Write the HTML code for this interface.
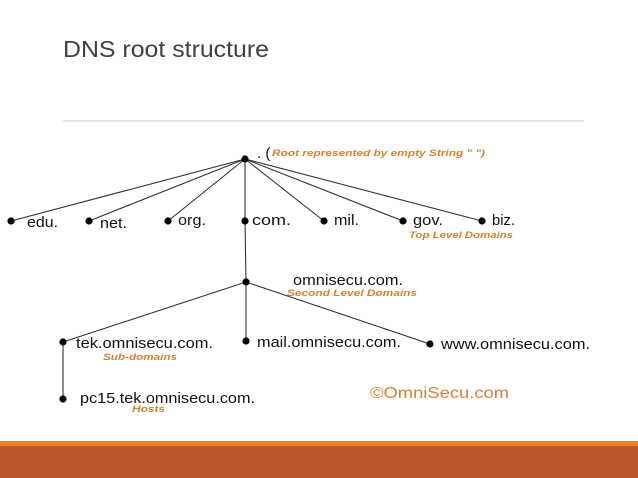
<!DOCTYPE html>
<html><head><meta charset="utf-8"><style>
html,body{margin:0;padding:0;background:#fff;width:638px;height:478px;overflow:hidden}
svg{display:block}
.t{font-family:"Liberation Sans",Arial,sans-serif;font-size:15px;fill:#111}
.o{font-family:"Liberation Sans",Arial,sans-serif;font-size:9px;font-weight:bold;font-style:italic;fill:#d9822b}
</style></head><body>
<svg width="638" height="478" viewBox="0 0 638 478" xmlns="http://www.w3.org/2000/svg">
<text x="63" y="57" font-family="'Liberation Sans',sans-serif" font-size="23" fill="#404040" textLength="206" lengthAdjust="spacingAndGlyphs">DNS root structure</text>
<line x1="63" y1="121" x2="584" y2="121" stroke="#d6d6d6" stroke-width="1.2"/>
<g stroke="#333" stroke-width="1.1" fill="none">
<line x1="245" y1="159" x2="11" y2="221"/>
<line x1="245" y1="159" x2="89" y2="221"/>
<line x1="245" y1="159" x2="168" y2="221"/>
<line x1="245" y1="159" x2="245" y2="221"/>
<line x1="245" y1="159" x2="324" y2="221"/>
<line x1="245" y1="159" x2="403" y2="221"/>
<line x1="245" y1="159" x2="482" y2="221"/>
<line x1="245" y1="221" x2="246" y2="282"/>
<line x1="246" y1="282" x2="63" y2="342"/>
<line x1="246" y1="282" x2="246" y2="341"/>
<line x1="246" y1="282" x2="430" y2="344"/>
<line x1="63" y1="342" x2="63" y2="399"/>
</g>
<g fill="#000">
<circle cx="245" cy="159" r="3.6"/>
<circle cx="11" cy="221" r="3.6"/><circle cx="89" cy="221" r="3.6"/><circle cx="168" cy="221" r="3.6"/>
<circle cx="245" cy="221" r="3.6"/><circle cx="324" cy="221" r="3.6"/><circle cx="403" cy="221" r="3.6"/><circle cx="482" cy="221" r="3.6"/>
<circle cx="246" cy="282" r="3.6"/>
<circle cx="63" cy="342" r="3.6"/><circle cx="246" cy="341" r="3.6"/><circle cx="430" cy="344" r="3.6"/>
<circle cx="63" cy="399" r="3.6"/>
</g>
<text class="t" x="257" y="158" font-size="15">. (</text>
<text class="o" x="272" y="156" textLength="213" lengthAdjust="spacingAndGlyphs">Root represented by empty String " ")</text>
<text class="t" x="27" y="227" textLength="31" lengthAdjust="spacingAndGlyphs">edu.</text>
<text class="t" x="100" y="228" textLength="27" lengthAdjust="spacingAndGlyphs">net.</text>
<text class="t" x="178" y="225" textLength="28" lengthAdjust="spacingAndGlyphs">org.</text>
<text class="t" x="252" y="225" textLength="39" lengthAdjust="spacingAndGlyphs">com.</text>
<text class="t" x="334" y="225" textLength="25" lengthAdjust="spacingAndGlyphs">mil.</text>
<text class="t" x="413" y="225" textLength="30" lengthAdjust="spacingAndGlyphs">gov.</text>
<text class="t" x="492" y="225" textLength="23" lengthAdjust="spacingAndGlyphs">biz.</text>
<text class="o" x="409" y="238" textLength="104" lengthAdjust="spacingAndGlyphs">Top Level Domains</text>
<text class="t" x="293" y="285" textLength="110" lengthAdjust="spacingAndGlyphs">omnisecu.com.</text>
<text class="o" x="287" y="296" textLength="130" lengthAdjust="spacingAndGlyphs">Second Level Domains</text>
<text class="t" x="76" y="348" textLength="137" lengthAdjust="spacingAndGlyphs">tek.omnisecu.com.</text>
<text class="o" x="103" y="360" textLength="74" lengthAdjust="spacingAndGlyphs">Sub-domains</text>
<text class="t" x="257" y="347" textLength="144" lengthAdjust="spacingAndGlyphs">mail.omnisecu.com.</text>
<text class="t" x="441" y="349" textLength="149" lengthAdjust="spacingAndGlyphs">www.omnisecu.com.</text>
<text class="t" x="80" y="403" textLength="175" lengthAdjust="spacingAndGlyphs">pc15.tek.omnisecu.com.</text>
<text class="o" x="132" y="412" textLength="33" lengthAdjust="spacingAndGlyphs">Hosts</text>
<text x="370" y="398" font-family="'Liberation Sans',sans-serif" font-size="16" fill="#d9822b" textLength="139" lengthAdjust="spacingAndGlyphs">©OmniSecu.com</text>
<rect x="0" y="441" width="638" height="5" fill="#e8821e"/>
<rect x="0" y="446" width="638" height="32" fill="#bd582c"/>
</svg>
</body></html>
